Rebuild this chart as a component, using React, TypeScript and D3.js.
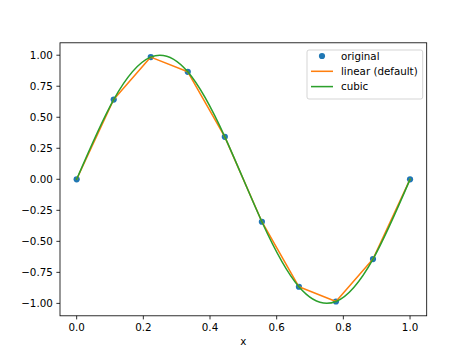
import React from "react";
import * as d3 from "d3";

const xs = [0, 0.1111, 0.2222, 0.3333, 0.4444, 0.5556, 0.6667, 0.7778, 0.8889, 1.0];
const ys = [0, 0.6428, 0.9848, 0.866, 0.342, -0.342, -0.866, -0.9848, -0.6428, 0];
const xTicks = [0, 0.2, 0.4, 0.6, 0.8, 1.0];
const yTicks = [-1, -0.75, -0.5, -0.25, 0, 0.25, 0.5, 0.75, 1.0];
const legendItems = ["original", "linear (default)", "cubic"];

const W = 474, H = 355;
const L = 60, R = 426.7, T = 42.8, B = 315.8;
const FONT = "DejaVu Sans";
const FS = 10.3;

export default function App() {
  const x = d3.scaleLinear().domain([-0.05, 1.05]).range([L, R]);
  const y = d3.scaleLinear().domain([-1.1, 1.1]).range([B, T]);
  const pts: [number, number][] = xs.map((v, i) => [v, ys[i]]);
  const linear = d3.line<[number, number]>().x(d => x(d[0])).y(d => y(d[1]));
  const cubic = d3.line<[number, number]>().x(d => x(d[0])).y(d => y(d[1])).curve(d3.curveNatural);
  const colors = ["#1f77b4", "#ff7f0e", "#2ca02c"];
  const lx = 307, ly = 50, lw = 115.7, lh = 49;
  return (
    <svg width={W} height={H} style={{ position: "absolute", left: 0, top: 0 }} fontFamily={FONT}>
      <rect width={W} height={H} fill="white" />
      <defs>
        <clipPath id="clip"><rect x={L} y={T} width={R - L} height={B - T} /></clipPath>
      </defs>
      <g clipPath="url(#clip)">
        {pts.map((p, i) => (
          <circle key={i} cx={x(p[0])} cy={y(p[1])} r={3.1} fill={colors[0]} />
        ))}
        <path d={linear(pts) || ""} fill="none" stroke={colors[1]} strokeWidth={1.54} strokeLinejoin="round" strokeLinecap="square" />
        <path d={cubic(pts) || ""} fill="none" stroke={colors[2]} strokeWidth={1.54} strokeLinejoin="round" strokeLinecap="square" />
      </g>
      <rect x={L} y={T} width={R - L} height={B - T} fill="none" stroke="black" strokeWidth={0.82} />
      {xTicks.map((t, i) => (
        <g key={i}>
          <line x1={x(t)} x2={x(t)} y1={B} y2={B + 3.6} stroke="black" strokeWidth={0.82} />
          <text x={x(t)} y={B + 7.2 + FS * 0.76} fontSize={FS} textAnchor="middle" fill="black">{t.toFixed(1)}</text>
        </g>
      ))}
      {yTicks.map((t, i) => (
        <g key={i}>
          <line x1={L} x2={L - 3.6} y1={y(t)} y2={y(t)} stroke="black" strokeWidth={0.82} />
          <text x={L - 7.2} y={y(t)} dy="0.36em" fontSize={FS} textAnchor="end" fill="black">{t < 0 ? "\u2212" + Math.abs(t).toFixed(2) : t.toFixed(2)}</text>
        </g>
      ))}
      <text x={(L + R) / 2} y={345} fontSize={FS} textAnchor="middle" fill="black">x</text>
      <rect x={lx} y={ly} width={lw} height={lh} rx={2} fill="white" fillOpacity={0.8} stroke="#cccccc" strokeWidth={0.82} />
      {legendItems.map((name, i) => {
        const cy = 56 + i * 15.3;
        return (
          <g key={i}>
            {i === 0 ? (
              <circle cx={322} cy={cy} r={3.1} fill={colors[0]} />
            ) : (
              <line x1={311} x2={333} y1={cy} y2={cy} stroke={colors[i]} strokeWidth={1.54} />
            )}
            <text x={341} y={cy} dy="0.36em" fontSize={FS} fill="black">{name}</text>
          </g>
        );
      })}
    </svg>
  );
}
